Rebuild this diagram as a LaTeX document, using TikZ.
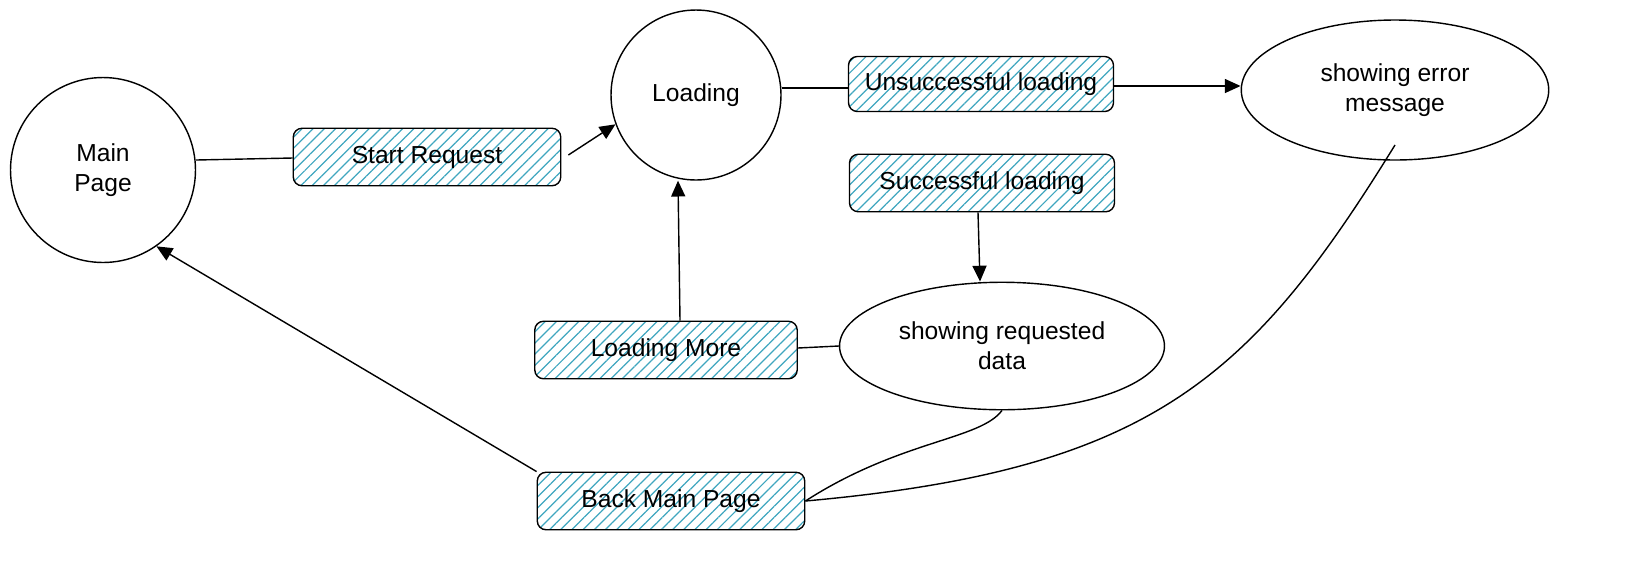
\documentclass[tikz,border=0pt]{standalone}
\usepackage{fontspec}
\setmainfont{Liberation Sans}
\usetikzlibrary{patterns.meta,arrows.meta,shapes.geometric}
\definecolor{hatch}{HTML}{3FA6BF}
\begin{document}
\begin{tikzpicture}[x=0.02cm,y=-0.02cm,
  every node/.style={font=\fontsize{14}{17}\selectfont,align=center},
  st/.style={draw,thick,circle,fill=white},
  el/.style={draw,thick,ellipse,fill=white},
  bx/.style={draw,thick,rounded corners=5pt,minimum height=1.15cm,
    pattern={Lines[angle=45,distance=4.5pt,line width=0.7pt]},pattern color=hatch},
  ar/.style={thick,-{Triangle[length=9pt,width=8pt]}},
  ln/.style={thick}]
\useasboundingbox (0,0) rectangle (1650,576);
\node[st,minimum size=3.7cm] (main) at (103,170) {Main\\Page};
\node[st,minimum size=3.4cm] (load) at (696,95) {Loading};
\node[el,minimum width=6.15cm,minimum height=2.8cm] (err) at (1395,90) {showing error\\message};
\node[el,minimum width=6.5cm,minimum height=2.55cm] (data) at (1002,346) {showing requested\\data};
\node[bx,minimum width=5.35cm] (start) at (427,157) {Start Request};
\node[bx,minimum width=5.3cm,minimum height=1.1cm] (unsucc) at (981,84) {Unsuccessful loading};
\node[bx,minimum width=5.3cm] (succ) at (982,183) {Successful loading};
\node[bx,minimum width=5.25cm] (more) at (666,350) {Loading More};
\node[bx,minimum width=5.35cm] (back) at (671,501) {Back Main Page};
\draw[ln] (main.east |- 0,160) -- (start.west |- 0,158);
\draw[ar] ([xshift=4pt]start.east |- 0,155) -- (load.200);
\draw[ln] (load.east |- 0,88) -- (unsucc.west |- 0,88);
\draw[ar] (unsucc.east |- 0,86) -- (err.west |- 0,86);
\draw[ar] (succ.south -| 978,0) -- (data.north -| 980,0);
\draw[ar] (more.north -| 680,0) -- (load.south -| 678,0);
\draw[ln] (data.west) -- (more.east |- 0,348);
\draw[ln] (data.south) .. controls (980,440) and (900,440) .. (back.east);
\draw[ln] (1395,145) .. controls (1250,380) and (1150,470) .. (back.east);
\draw[ar] (back.north west) -- (main.-55);
\end{tikzpicture}
\end{document}
